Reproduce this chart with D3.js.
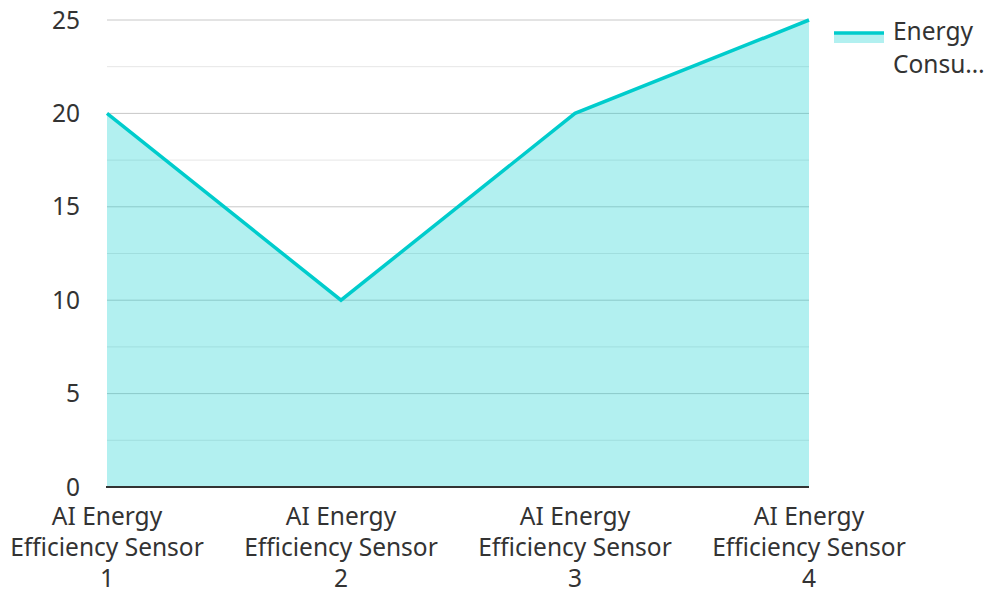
<!DOCTYPE html>
<html lang="en">
  <head>
    <meta charset="utf-8" />
    <title>Energy Consumption</title>
    <script src="https://cdn.jsdelivr.net/npm/d3@7"></script>
    <style>
      body { margin: 0; background: #fff; }
      text { font-family: "Noto Sans", sans-serif; fill: #333; }
    </style>
  </head>
  <body>
    <script>
      var categories = [
        "AI Energy Efficiency Sensor 1",
        "AI Energy Efficiency Sensor 2",
        "AI Energy Efficiency Sensor 3",
        "AI Energy Efficiency Sensor 4"
      ];
      var values = [20, 10, 20, 25];
      var yTicks = [0, 5, 10, 15, 20, 25];
      var minorTicks = [2.5, 7.5, 12.5, 17.5, 22.5];
      var seriesName = "Energy Consumption";

      var w = 988, h = 590;
      var plotLeft = 107, plotRight = 809, plotTop = 20, plotBottom = 487;
      var fs = 24.5;

      var svg = d3.select("body").append("svg")
        .attr("width", w)
        .attr("height", h);

      var x = d3.scalePoint().domain(categories).range([plotLeft, plotRight]).padding(0);
      var y = d3.scaleLinear().domain([0, 25]).range([plotBottom, plotTop]);

      // minor grid
      svg.selectAll(".minor").data(minorTicks).enter().append("line")
        .attr("x1", plotLeft).attr("x2", plotRight)
        .attr("y1", function (d) { return y(d); })
        .attr("y2", function (d) { return y(d); })
        .attr("stroke", "#e6e6e6").attr("stroke-width", 1);

      // major grid
      svg.selectAll(".major").data(yTicks.slice(1)).enter().append("line")
        .attr("x1", plotLeft).attr("x2", plotRight)
        .attr("y1", function (d) { return y(d); })
        .attr("y2", function (d) { return y(d); })
        .attr("stroke", "#c8c8c8").attr("stroke-width", 1);

      var area = d3.area()
        .x(function (d, i) { return x(categories[i]); })
        .y0(plotBottom)
        .y1(function (d) { return y(d); });

      svg.append("path").datum(values)
        .attr("d", area)
        .attr("fill", "#00cccc")
        .attr("fill-opacity", 0.3);

      var line = d3.line()
        .x(function (d, i) { return x(categories[i]); })
        .y(function (d) { return y(d); });

      svg.append("path").datum(values)
        .attr("d", line)
        .attr("fill", "none")
        .attr("stroke", "#00cccc")
        .attr("stroke-width", 3.5);

      // x axis line
      svg.append("line")
        .attr("x1", plotLeft - 1).attr("x2", plotRight)
        .attr("y1", plotBottom).attr("y2", plotBottom)
        .attr("stroke", "#333").attr("stroke-width", 2);

      // y labels
      svg.selectAll(".ylab").data(yTicks).enter().append("text")
        .attr("x", 80)
        .attr("y", function (d) { return y(d); })
        .attr("dy", "0.35em")
        .attr("text-anchor", "end")
        .attr("font-size", fs)
        .text(function (d) { return d; });

      // x labels, wrapped
      categories.forEach(function (c) {
        var lines = ["AI Energy", "Efficiency Sensor", c.split(" ").pop()];
        var t = svg.append("text")
          .attr("text-anchor", "middle")
          .attr("font-size", fs);
        lines.forEach(function (l, i) {
          t.append("tspan")
            .attr("x", x(c))
            .attr("y", 525 + i * 31)
            .text(l);
        });
      });

      // legend
      svg.append("rect")
        .attr("x", 834).attr("y", 33)
        .attr("width", 50).attr("height", 10)
        .attr("fill", "#00cccc").attr("fill-opacity", 0.3);
      svg.append("line")
        .attr("x1", 834).attr("x2", 884)
        .attr("y1", 33).attr("y2", 33)
        .attr("stroke", "#00cccc").attr("stroke-width", 3.5);
      var lt = svg.append("text").attr("font-size", fs);
      lt.append("tspan").attr("x", 893).attr("y", 40).text(seriesName.split(" ")[0]);
      lt.append("tspan").attr("x", 893).attr("y", 73).text("Consu…");
    </script>
  </body>
</html>
